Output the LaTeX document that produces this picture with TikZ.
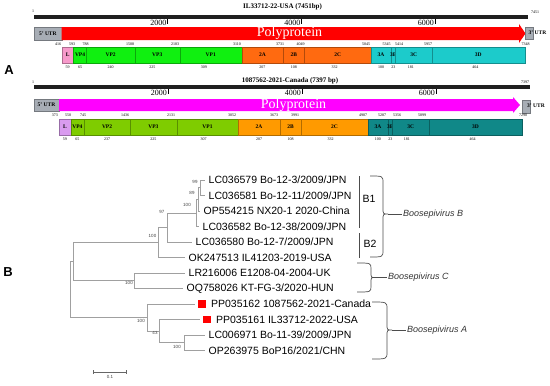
\documentclass[tikz,border=0pt]{standalone}
\usepackage{fontspec}
\setmainfont{Liberation Serif}
\newfontfamily\treefont{Liberation Sans}
\usetikzlibrary{positioning, arrows.meta, calc}
\definecolor{utrgray}{HTML}{A7ADB5}
\definecolor{polyred}{HTML}{FF0000}
\definecolor{polymag}{HTML}{FF00FF}
\definecolor{lpink}{HTML}{F79ACB}
\definecolor{lviolet}{HTML}{D99BEF}
\definecolor{vpgreen}{HTML}{10F010}
\definecolor{vpolive}{HTML}{7FCC00}
\definecolor{ntorange}{HTML}{FF6A10}
\definecolor{ntamber}{HTML}{FF9A00}
\definecolor{ctcyan}{HTML}{1CCBCB}
\definecolor{ctteal}{HTML}{108888}
\definecolor{treegray}{HTML}{A0A0A0}
\tikzset{
  gene/.style    = {rectangle, draw=#1!70!black, fill=#1, line width=0.4pt,
                    minimum height=16pt, inner sep=0pt,
                    font=\fontsize{5.5}{6}\selectfont\bfseries},
  utr/.style     = {rectangle, draw=utrgray!70!black, fill=utrgray, line width=0.4pt,
                    minimum height=13pt, inner sep=0pt,
                    font=\fontsize{5.5}{6}\selectfont\bfseries},
  num/.style     = {inner sep=0pt, font=\fontsize{4}{4.5}\selectfont},
  ticklab/.style = {inner sep=0pt, anchor=east, font=\fontsize{8}{9}\selectfont},
  gtick/.style   = {line width=0.8pt, draw=black},
  gtitle/.style  = {inner sep=0pt, font=\fontsize{7}{8}\selectfont\bfseries},
  genome/.style  = {line width=4pt, draw=black!88},
  poly/.style    = {inner sep=0pt, text=white, font=\fontsize{14}{15}\selectfont},
  panel/.style   = {inner sep=0pt, font=\treefont\bfseries\fontsize{13}{14}\selectfont},
  branch/.style  = {line width=0.9pt, draw=treegray},
  leaf/.style    = {inner sep=0.5pt, anchor=west, font=\treefont\fontsize{10.5}{12}\selectfont},
  boot/.style    = {inner sep=0pt, text=black!75, font=\treefont\fontsize{4.5}{5}\selectfont},
  redsq/.style   = {rectangle, fill=red, minimum size=8pt, inner sep=0pt, anchor=west},
  clade/.style   = {line width=0.7pt, draw=black!70},
  genus/.style   = {inner sep=1pt, anchor=west, text=black!80,
                    font=\treefont\itshape\fontsize{9}{10}\selectfont},
}
\begin{document}
\begin{tikzpicture}[x=1pt, y=-1pt]
\useasboundingbox (0,0) rectangle (550,386);

% Panel labels
\node[panel] (pa) at (9,70) {A};
\node[panel] (pb) at (8,272) {B};

% Genome 1: IL33712
\node[gtitle] (t1) at (282.5,7) {IL33712-22-USA (7451bp)};
\node[num] (s1) at (33,11.5) {1};
\node[num] (e1) at (535,12) {7451};
\draw[genome] (34,17) -- (528,17);
\foreach \x/\t in {167.5/2000, 301.5/4000, 435/6000} {
  \draw[gtick] (\x,19) -- (\x,24);
  \node[ticklab] (k1\t) at (\x-1,22.5) {\t};
}
\node[utr, minimum width=27.7pt] (u5a) at (47.85,33.5) {5' UTR};
\fill[polyred] (61.7,27) -- (519,27) -- (519,24) -- (525.5,33.5) -- (519,43)
  -- (519,40) -- (61.7,40) -- cycle;
\node[poly] (pp1) at (289.5,33.5) {Polyprotein};
\node[utr, minimum width=7.5pt, minimum height=12pt] (u3a) at (529,33) {};
\node[utr, draw=none, fill=none] (l3a) at (537.5,33) {3' UTR};

\foreach \n/\a/\b/\c in {L/61.7/73.5/lpink, VP4/73.5/86.6/vpgreen, VP2/86.6/134.7/vpgreen,
    VP3/134.7/179.8/vpgreen, VP1/179.8/241.7/vpgreen, 2A/241.7/283.2/ntorange,
    2B/283.2/304.4/ntorange, 2C/304.4/371/ntorange, 3A/371/391/ctcyan,
    3B/391/395.6/ctcyan, 3C/395.6/431.9/ctcyan, 3D/431.9/524.8/ctcyan}
  \node[gene=\c, minimum width={(\b-\a)*1pt}] (a\n) at ({(\a+\b)/2},55) {\makebox[0pt]{\n}};
\foreach \p/\x in {416/58, 593/72, 788/85.5, 1508/130, 2183/175, 3110/237, 3731/280,
    4049/300.5, 5045/366, 5345/386.5, 5414/399, 5957/428, 7348/525.5}
  \node[num] (ap\p) at (\x,44) {\p};
\foreach \n/\v/\s in {L/59/0, VP4/65/0, VP2/240/0, VP3/225/-5, VP1/309/-7, 2A/207/0,
    2B/108/0, 2C/332/-3, 3A/100/0, 3B/23/0, 3C/181/-3, 3D/464/-3}
  \node[num, below=2pt of a\n, xshift=\s pt] (a\n-len) {\v};

% Genome 2: 1087562
\node[gtitle] (t2) at (290,80.5) {1087562-2021-Canada (7397 bp)};
\node[num] (s2) at (33,82) {1};
\node[num] (e2) at (525,82) {7397};
\draw[genome] (34,87) -- (530,87);
\foreach \x/\t in {168/2000, 302/4000, 436/6000} {
  \draw[gtick] (\x,89) -- (\x,94);
  \node[ticklab] (k2\t) at (\x-1,93) {\t};
}
\node[utr, minimum width=25pt, minimum height=12pt] (u5b) at (46.5,105) {5' UTR};
\fill[polymag] (59,99) -- (513,99) -- (513,97) -- (520,105) -- (513,113)
  -- (513,111) -- (59,111) -- cycle;
\node[poly] (pp2) at (293.5,105) {Polyprotein};
\node[utr, minimum width=8pt, minimum height=13pt] (u3b) at (526,106.5) {};
\node[utr, draw=none, fill=none] (l3b) at (536,106) {3' UTR};

\foreach \n/\a/\b/\c in {L/59/70.85/lviolet, VP4/70.85/83.9/vpolive, VP2/83.9/130.2/vpolive,
    VP3/130.2/176.7/vpolive, VP1/176.7/238.3/vpolive, 2A/238.3/279.9/ntamber,
    2B/279.9/301.2/ntamber, 2C/301.2/367.9/ntamber, 3A/367.9/388/ctteal,
    3B/388/392.6/ctteal, 3C/392.6/429/ctteal, 3D/429/522/ctteal}
  \node[gene=\c, minimum width={(\b-\a)*1pt}] (b\n) at ({(\a+\b)/2},127) {\makebox[0pt]{\n}};
\foreach \p/\x in {373/55, 550/68, 745/83, 1436/125, 2131/171, 3052/232, 3673/274,
    3991/295, 4987/363, 5287/382, 5356/397, 5899/422, 7290/523}
  \node[num] (bp\p) at (\x,115.5) {\p};
\foreach \n/\v/\s in {L/59/0, VP4/65/0, VP2/237/0, VP3/225/0, VP1/307/-4, 2A/207/0,
    2B/108/0, 2C/332/-4, 3A/100/0, 3B/23/0, 3C/181/-4, 3D/464/-3}
  \node[num, below=2pt of b\n, xshift=\s pt] (b\n-len) {\v};

% Tree: tips
\coordinate (lf1)  at (205,180);
\coordinate (lf2)  at (205,195.5);
\coordinate (lf3)  at (200,211);
\coordinate (lf4)  at (199,226.5);
\coordinate (lf5)  at (192,242);
\coordinate (lf6)  at (185,257.5);
\coordinate (lf7)  at (185,273);
\coordinate (lf8)  at (183,288.5);
\coordinate (lf9)  at (195,304);
\coordinate (lf10) at (200,319.5);
\coordinate (lf11) at (205,335);
\coordinate (lf12) at (205,350.5);
% Tree: inner nodes
\coordinate (n99)  at (200.7,187.75);
\coordinate (n89)  at (198.5,199.4);
\coordinate (nb1)  at (196.5,213.2);
\coordinate (n97)  at (167,227.6);
\coordinate (nb)   at (158.5,242.5);
\coordinate (nc)   at (134.3,280.75);
\coordinate (nbc)  at (73.3,261.6);
\coordinate (na3)  at (184,342.75);
\coordinate (n43)  at (159,331.1);
\coordinate (na)   at (147.3,317.6);
\coordinate (root) at (70.7,289.6);

\foreach \p/\c in {n99/lf1, n99/lf2, n89/n99, n89/lf3, nb1/n89, nb1/lf4, n97/nb1, n97/lf5,
    nb/n97, nb/lf6, root/nbc, root/na, nbc/nb, nbc/nc, nc/lf7, nc/lf8, na/lf9, na/n43,
    n43/lf10, n43/na3, na3/lf11, na3/lf12}
  \draw[branch] (\p) |- (\c);

% Tree: labels
\node[leaf, right=3pt of lf1]  (x1)  {LC036579 Bo-12-3/2009/JPN};
\node[leaf, right=3pt of lf2]  (x2)  {LC036581 Bo-12-11/2009/JPN};
\node[leaf, right=3pt of lf3]  (x3)  {OP554215 NX20-1 2020-China};
\node[leaf, right=3pt of lf4]  (x4)  {LC036582 Bo-12-38/2009/JPN};
\node[leaf, right=3pt of lf5]  (x5)  {LC036580 Bo-12-7/2009/JPN};
\node[leaf, right=3pt of lf6]  (x6)  {OK247513 IL41203-2019-USA};
\node[leaf, right=3pt of lf7]  (x7)  {LR216006 E1208-04-2004-UK};
\node[leaf, right=3pt of lf8]  (x8)  {OQ758026 KT-FG-3/2020-HUN};
\node[redsq, right=3pt of lf9] (q9)  {};
\node[leaf, right=4pt of q9]   (x9)  {PP035162 1087562-2021-Canada};
\node[redsq, minimum size=7.5pt, right=3pt of lf10] (q10) {};
\node[leaf, right=4.5pt of q10] (x10) {PP035161 IL33712-2022-USA};
\node[leaf, right=3pt of lf11] (x11) {LC006971 Bo-11-39/2009/JPN};
\node[leaf, right=3pt of lf12] (x12) {OP263975 BoP16/2021/CHN};

% Bootstrap values
\node[boot] (v99)  at (195,182) {99};
\node[boot] (v89)  at (192,193) {89};
\node[boot] (vb1)  at (187,205) {100};
\node[boot] (v97)  at (162,212) {97};
\node[boot] (vb)   at (152.5,236) {100};
\node[boot] (vc)   at (129,283) {100};
\node[boot] (va)   at (141,321) {100};
\node[boot] (v43)  at (155,333) {43};
\node[boot] (va3)  at (177,347) {100};

% Scale bar
\coordinate (sbl) at (93,372);
\coordinate (sbr) at (127,372);
\draw[line width=0.7pt, draw=black!60, {Bar[width=4pt]}-{Bar[width=4pt]}] (sbl) -- (sbr);
\node[boot, below=3pt of $(sbl)!0.5!(sbr)$] (sbt) {0.1};

% Subclades B1 / B2
\draw[clade] (359,176) -- (359,228);
\draw[clade] (359,233) -- (359,258);
\node[leaf] (sb1) at (362,199) {B1};
\node[leaf] (sb2) at (363,244) {B2};

% Species braces
\coordinate (tipb) at (388,214);
\coordinate (tipc) at (375,277.5);
\coordinate (tipa) at (392,330);
\draw[clade] (370,176) .. controls (383,176) .. (383,183) -- (383,208)
  .. controls (383,214) .. (tipb) .. controls (383,214) .. (383,220) -- (383,250)
  .. controls (383,257) .. (370,257);
\draw[clade] (357,263) .. controls (371,263) .. (371,269) -- (371,272)
  .. controls (371,277.5) .. (tipc) .. controls (371,277.5) .. (371,283) -- (371,286)
  .. controls (371,292) .. (357,292);
\draw[clade] (372,302) .. controls (387,302) .. (387,309) -- (387,324)
  .. controls (387,330) .. (tipa) .. controls (387,330) .. (387,336) -- (387,352)
  .. controls (387,359) .. (372,359);
\node[genus] (gb) at (402,214) {Boosepivirus B};
\node[genus] (gc) at (387,277.5) {Boosepivirus C};
\node[genus] (ga) at (406,330) {Boosepivirus A};
\draw[clade] (tipb) -- (gb);
\draw[clade] (tipc) -- (gc);
\draw[clade] (tipa) -- (ga);

\end{tikzpicture}
\end{document}
